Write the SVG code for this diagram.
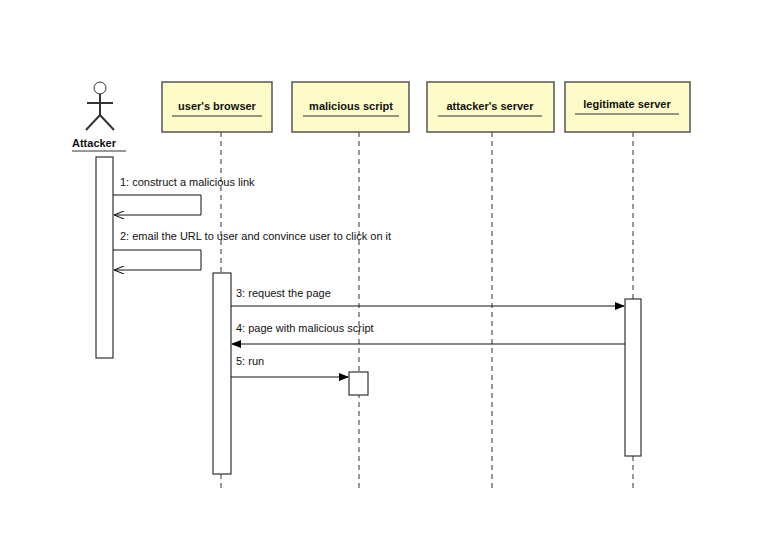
<svg xmlns="http://www.w3.org/2000/svg" width="768" height="543" viewBox="0 0 768 543">
<defs>
<marker id="ah" markerWidth="10" markerHeight="8" refX="9" refY="4" orient="auto" markerUnits="userSpaceOnUse"><path d="M0,0 L10,4 L0,8 z" fill="#000"/></marker>
<marker id="oh" markerWidth="10" markerHeight="8" refX="9" refY="4" orient="auto" markerUnits="userSpaceOnUse"><path d="M0,0 L10,4 L0,8" fill="none" stroke="#000"/></marker>
</defs>
<style>
.box{fill:#fdfbc8;stroke:#555;stroke-width:1.5}
.t{font-family:"Liberation Sans",Arial,sans-serif;font-size:11px;fill:#111}
.life{stroke:#333;stroke-dasharray:5,4;fill:none}
.act{fill:#fff;stroke:#333;stroke-width:1.2}
.m{stroke:#111;fill:none;stroke-width:1}
</style>
<rect width="768" height="543" fill="#fff"/>
<g id="lifelines">
<line class="life" x1="221" y1="132" x2="221" y2="490"/>
<line class="life" x1="359" y1="132" x2="359" y2="490"/>
<line class="life" x1="492" y1="132" x2="492" y2="490"/>
<line class="life" x1="633" y1="132" x2="633" y2="490"/>
</g>
<g id="attacker">
<circle cx="100" cy="88" r="6" fill="#fff" stroke="#333"/>
<line x1="100" y1="94" x2="100" y2="115" stroke="#333" stroke-width="2"/>
<line x1="87" y1="103" x2="113" y2="103" stroke="#333" stroke-width="2"/>
<path d="M86,130 L100,115 L114,130" fill="none" stroke="#333" stroke-width="2"/>
<text class="t" x="72" y="147" font-weight="bold">Attacker</text>
<line x1="72" y1="151" x2="126" y2="151" stroke="#333"/>
<rect class="act" x="96" y="157" width="17" height="201"/>
</g>
<g id="browser">
<rect class="box" x="162" y="82" width="110" height="50"/>
<text class="t" x="217" y="110" text-anchor="middle" font-weight="bold">user's browser</text>
<line x1="172" y1="116" x2="262" y2="116" stroke="#333"/>
<rect class="act" x="213" y="273" width="18" height="201"/>
</g>
<g id="script">
<rect class="box" x="292" y="82" width="117" height="50"/>
<text class="t" x="351" y="110" text-anchor="middle" font-weight="bold">malicious script</text>
<line x1="303" y1="116" x2="399" y2="116" stroke="#333"/>
<rect class="act" x="349" y="372" width="19" height="23"/>
</g>
<g id="attserver">
<rect class="box" x="427" y="82" width="127" height="50"/>
<text class="t" x="490" y="110" text-anchor="middle" font-weight="bold">attacker's server</text>
<line x1="438" y1="116" x2="542" y2="116" stroke="#333"/>
</g>
<g id="legit">
<rect class="box" x="565" y="82" width="125" height="50"/>
<text class="t" x="627" y="108" text-anchor="middle" font-weight="bold">legitimate server</text>
<line x1="575" y1="114" x2="679" y2="114" stroke="#333"/>
<rect class="act" x="625" y="299" width="16" height="157"/>
</g>
<g id="connectors">
<path class="m" d="M113,195 H201 V215 H115" marker-end="url(#oh)"/>
<text class="t" x="120" y="186">1: construct a malicious link</text>
<path class="m" d="M113,250 H201 V270 H115" marker-end="url(#oh)"/>
<text class="t" x="120" y="240">2: email the URL to user and convince user to click on it</text>
<line class="m" x1="231" y1="306" x2="624" y2="306" marker-end="url(#ah)"/>
<text class="t" x="236" y="297">3: request the page</text>
<line class="m" x1="625" y1="344" x2="232" y2="344" marker-end="url(#ah)"/>
<text class="t" x="236" y="332">4: page with malicious script</text>
<line class="m" x1="231" y1="377" x2="348" y2="377" marker-end="url(#ah)"/>
<text class="t" x="236" y="365">5: run</text>
</g>
</svg>
